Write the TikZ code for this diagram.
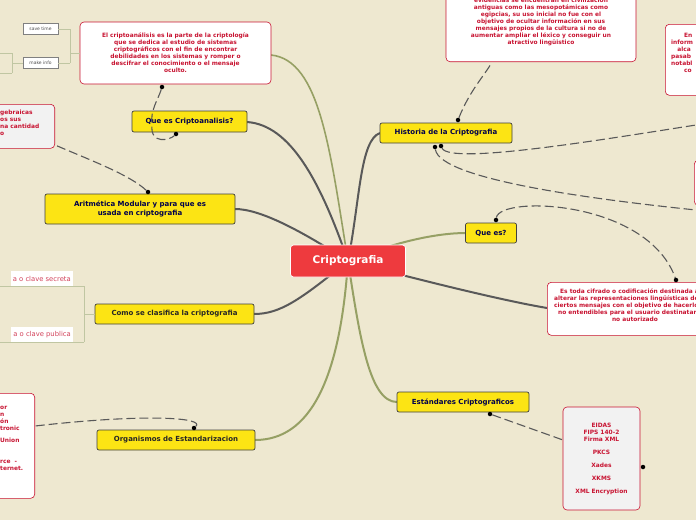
\documentclass[tikz,border=0pt]{standalone}
\usepackage{fontspec}
\setmainfont{DejaVu Sans}
\definecolor{bg}{RGB}{238,232,208}
\definecolor{ylw}{RGB}{252,228,20}
\definecolor{crd}{RGB}{238,58,62}
\definecolor{nred}{RGB}{200,20,50}
\definecolor{ol}{RGB}{150,160,100}
\begin{document}
\begin{tikzpicture}[x=1pt,y=-1pt,
 topic/.style={draw=black!75,fill=ylw,rounded corners=2pt,font=\bfseries\fontsize{7}{8.5}\selectfont,text=blue!30!black,align=center,line width=0.7pt,inner sep=0pt},
 note/.style={draw=nred,fill=white,rounded corners=4pt,font=\bfseries\fontsize{5.9}{7}\selectfont,text=nred,align=center,line width=0.6pt,inner sep=0pt},
 tag/.style={draw=black!50,fill=white,font=\fontsize{4.5}{5}\selectfont,text=black!70,inner sep=0pt,minimum width=35pt,minimum height=11pt},
 dsh/.style={draw=black!65,line width=1.1pt,dash pattern=on 9pt off 4pt},
 dot/.style={circle,fill=black,inner sep=0pt,minimum size=4.5pt},
 br/.style={line width=2pt},
 thin/.style={draw=ol!60,line width=0.7pt}]
\fill[bg] (0,0) rectangle (696,520);
\useasboundingbox (0,0) rectangle (696,520);
\clip (0,0) rectangle (696,520);
% branches
\coordinate (c) at (348,261);
\draw[br,black!65] (c) .. controls (360,200) and (360,140) .. (380,133);
\draw[br,ol] (c) .. controls (400,240) and (440,233) .. (466,233);
\draw[br,black!65] (c) .. controls (320,180) and (290,125) .. (247,122);
\draw[ol,line width=1.6pt] (c) .. controls (330,150) and (320,60) .. (271,55);
\draw[br,black!65] (c) .. controls (300,230) and (260,209) .. (235,209);
\draw[br,black!65] (c) .. controls (300,300) and (280,314) .. (254,314);
\draw[br,ol] (c) .. controls (340,380) and (310,440) .. (255,440);
\draw[br,ol] (c) .. controls (360,340) and (370,402) .. (397,402);
\draw[br,black!65] (c) .. controls (420,280) and (500,300) .. (547,308);
% nodes
\node[topic,minimum width=115pt,minimum height=32pt,fill=crd,draw=white,rounded corners=3pt,text=white,font=\bfseries\fontsize{10.5}{12}\selectfont] (cr) at (348,261) {Criptografia};
\node[topic,minimum width=132pt,minimum height=20pt] (hi) at (446,133) {Historia de la Criptografia};
\node[note,minimum width=190pt,minimum height=80pt,anchor=south] (ht) at (541,62) {evidencias se encuentran en civilización\\antiguas como las mesopotámicas como\\egipcias, su uso inicial no fue con el\\objetivo de ocultar información en sus\\mensajes propios de la cultura si no de\\aumentar ampliar el léxico y conseguir un\\atractivo lingüistico};
\node[note,minimum width=60pt,minimum height=71pt,anchor=north west] (rt) at (665,24) {};
\node[font=\bfseries\fontsize{5.9}{7}\selectfont,text=nred,align=left,anchor=north west,inner sep=0pt] (rtt) at (671,33) {\hphantom{info}En\\inform\\\hphantom{in}alca\\pasab\\notabl\\\hphantom{info}co};
\node[note,minimum width=40pt,minimum height=45pt,anchor=north west] (r2) at (694,160) {};
\node[topic,minimum width=51pt,minimum height=20pt] (qe) at (491,233) {Que es?};
\node[note,minimum width=160pt,minimum height=53pt,anchor=north west] (et) at (547,282) {};
\node[font=\bfseries\fontsize{5.9}{7}\selectfont,text=nred,align=left,anchor=north west,inner sep=0pt] (ett) at (554,289) {\hphantom{al}Es toda cifrado o codificación destinada a\\alterar las representaciones lingüísticas de\\ciertos mensajes con el objetivo de hacerlos\\\hphantom{a}no entendibles para el usuario destinatario\\\hphantom{alterar las repres}no autorizado};
\node[topic,minimum width=132pt,minimum height=20pt] (es) at (463,402) {Estándares Criptograficos};
\node[note,fill=gray!10,minimum width=77pt,minimum height=103pt] (ei) at (601.5,458.5) {EIDAS\\FIPS 140-2\\Firma XML\\[6pt]PKCS\\[6pt]Xades\\[6pt]XKMS\\[6pt]XML Encryption};
\node[topic,minimum width=158pt,minimum height=20pt,text=black!85] (or) at (176,440) {Organismos de Estandarizacion};
\node[note,minimum width=45pt,minimum height=105pt,anchor=north east] (ol) at (35,393) {};
\node[font=\bfseries\fontsize{5.9}{7}\selectfont,text=nred,align=left,anchor=north west,inner sep=0pt] (olt) at (0,406) {or\\n\\ón\\tronic\\[5pt]Union\\[14pt]rce\ \ -\\ternet.};
\node[topic,minimum width=159pt,minimum height=20pt,text=black!85] (co) at (174.5,314) {Como se clasifica la criptografia};
\node[fill=white,font=\fontsize{6.8}{7}\selectfont,text=nred!80,anchor=east,inner sep=2pt,minimum height=15pt] (s1) at (73,278.5) {a o clave secreta};
\node[fill=white,font=\fontsize{6.8}{7}\selectfont,text=nred!80,anchor=east,inner sep=2pt,minimum height=15pt] (s2) at (73,334.5) {a o clave publica};
\node[topic,minimum width=190pt,minimum height=30pt] (ar) at (140,209) {Aritmética Modular y para que es\\usada en criptografia};
\node[note,fill=gray!10,minimum width=60pt,minimum height=44pt,anchor=north east] (al) at (55,104) {};
\node[font=\bfseries\fontsize{5.9}{7}\selectfont,text=nred,align=left,anchor=north west,inner sep=0pt] (alt) at (0,110) {gebraicas\\os sus\\na cantidad\\o};
\node[topic,minimum width=115pt,minimum height=21pt] (qc) at (189.5,121.5) {Que es Criptoanalisis?};
\node[note,minimum width=191pt,minimum height=62pt] (ca) at (175.5,53) {El criptoanálisis es la parte de la criptología\\que se dedica al estudio de sistemas\\criptográficos con el fin de encontrar\\debilidades en los sistemas y romper o\\descifrar el conocimiento o el mensaje\\oculto.};
\node[tag] (t1) at (40.5,29) {save time};
\node[tag] (t2) at (40.5,63) {make info};
% thin bracket lines
\draw[thin] (ca.west) -- (70,53) (70,29) -- (70,63) (t1.east) -- (70,29) (t2.east) -- (70,63);
\draw[thin] (t2.west) -- (12,63) (12,53) -- (12,73) (12,53) -- (0,53) (12,73) -- (0,73);
\draw[thin] (co.west) -- (84,314) (84,286) -- (84,342) (84,286) -- (0,286) (84,342) -- (0,342);
% dashed connectors
\node[dot] (d1) at (458,120) {};
\draw[dsh] (d1) .. controls (470,90) and (485,75) .. (492,62);
\node[dot] (d2) at (441,146) {};
\node[dot] (d3) at (435,147) {};
\draw[dsh] (d2) .. controls (450,165) and (600,140) .. (696,125);
\draw[dsh] (d3) .. controls (440,180) and (600,200) .. (696,210);
\node[dot] (d4) at (496,220) {};
\draw[dsh] (d4) .. controls (500,195) and (650,200) .. (676,280);
\node[dot] (d5) at (676,280) {};
\node[dot] (d6) at (490,414) {};
\draw[dsh] (d6) -- (563,440);
\node[dot] (d7) at (643,467) {};
\node[dot] (d8) at (194,428) {};
\draw[dsh] (d8) .. controls (205,418) and (150,413) .. (35,426);
\node[dot] (d9) at (148,192) {};
\draw[dsh] (d9) .. controls (130,175) and (90,160) .. (55,145);
\node[dot] (d10) at (162,87) {};
\node[dot] (d11) at (176,134) {};
\draw[dsh] (d10) .. controls (158,100) and (150,110) .. (152,125) .. controls (150,145) and (170,140) .. (d11);
\end{tikzpicture}
\end{document}
